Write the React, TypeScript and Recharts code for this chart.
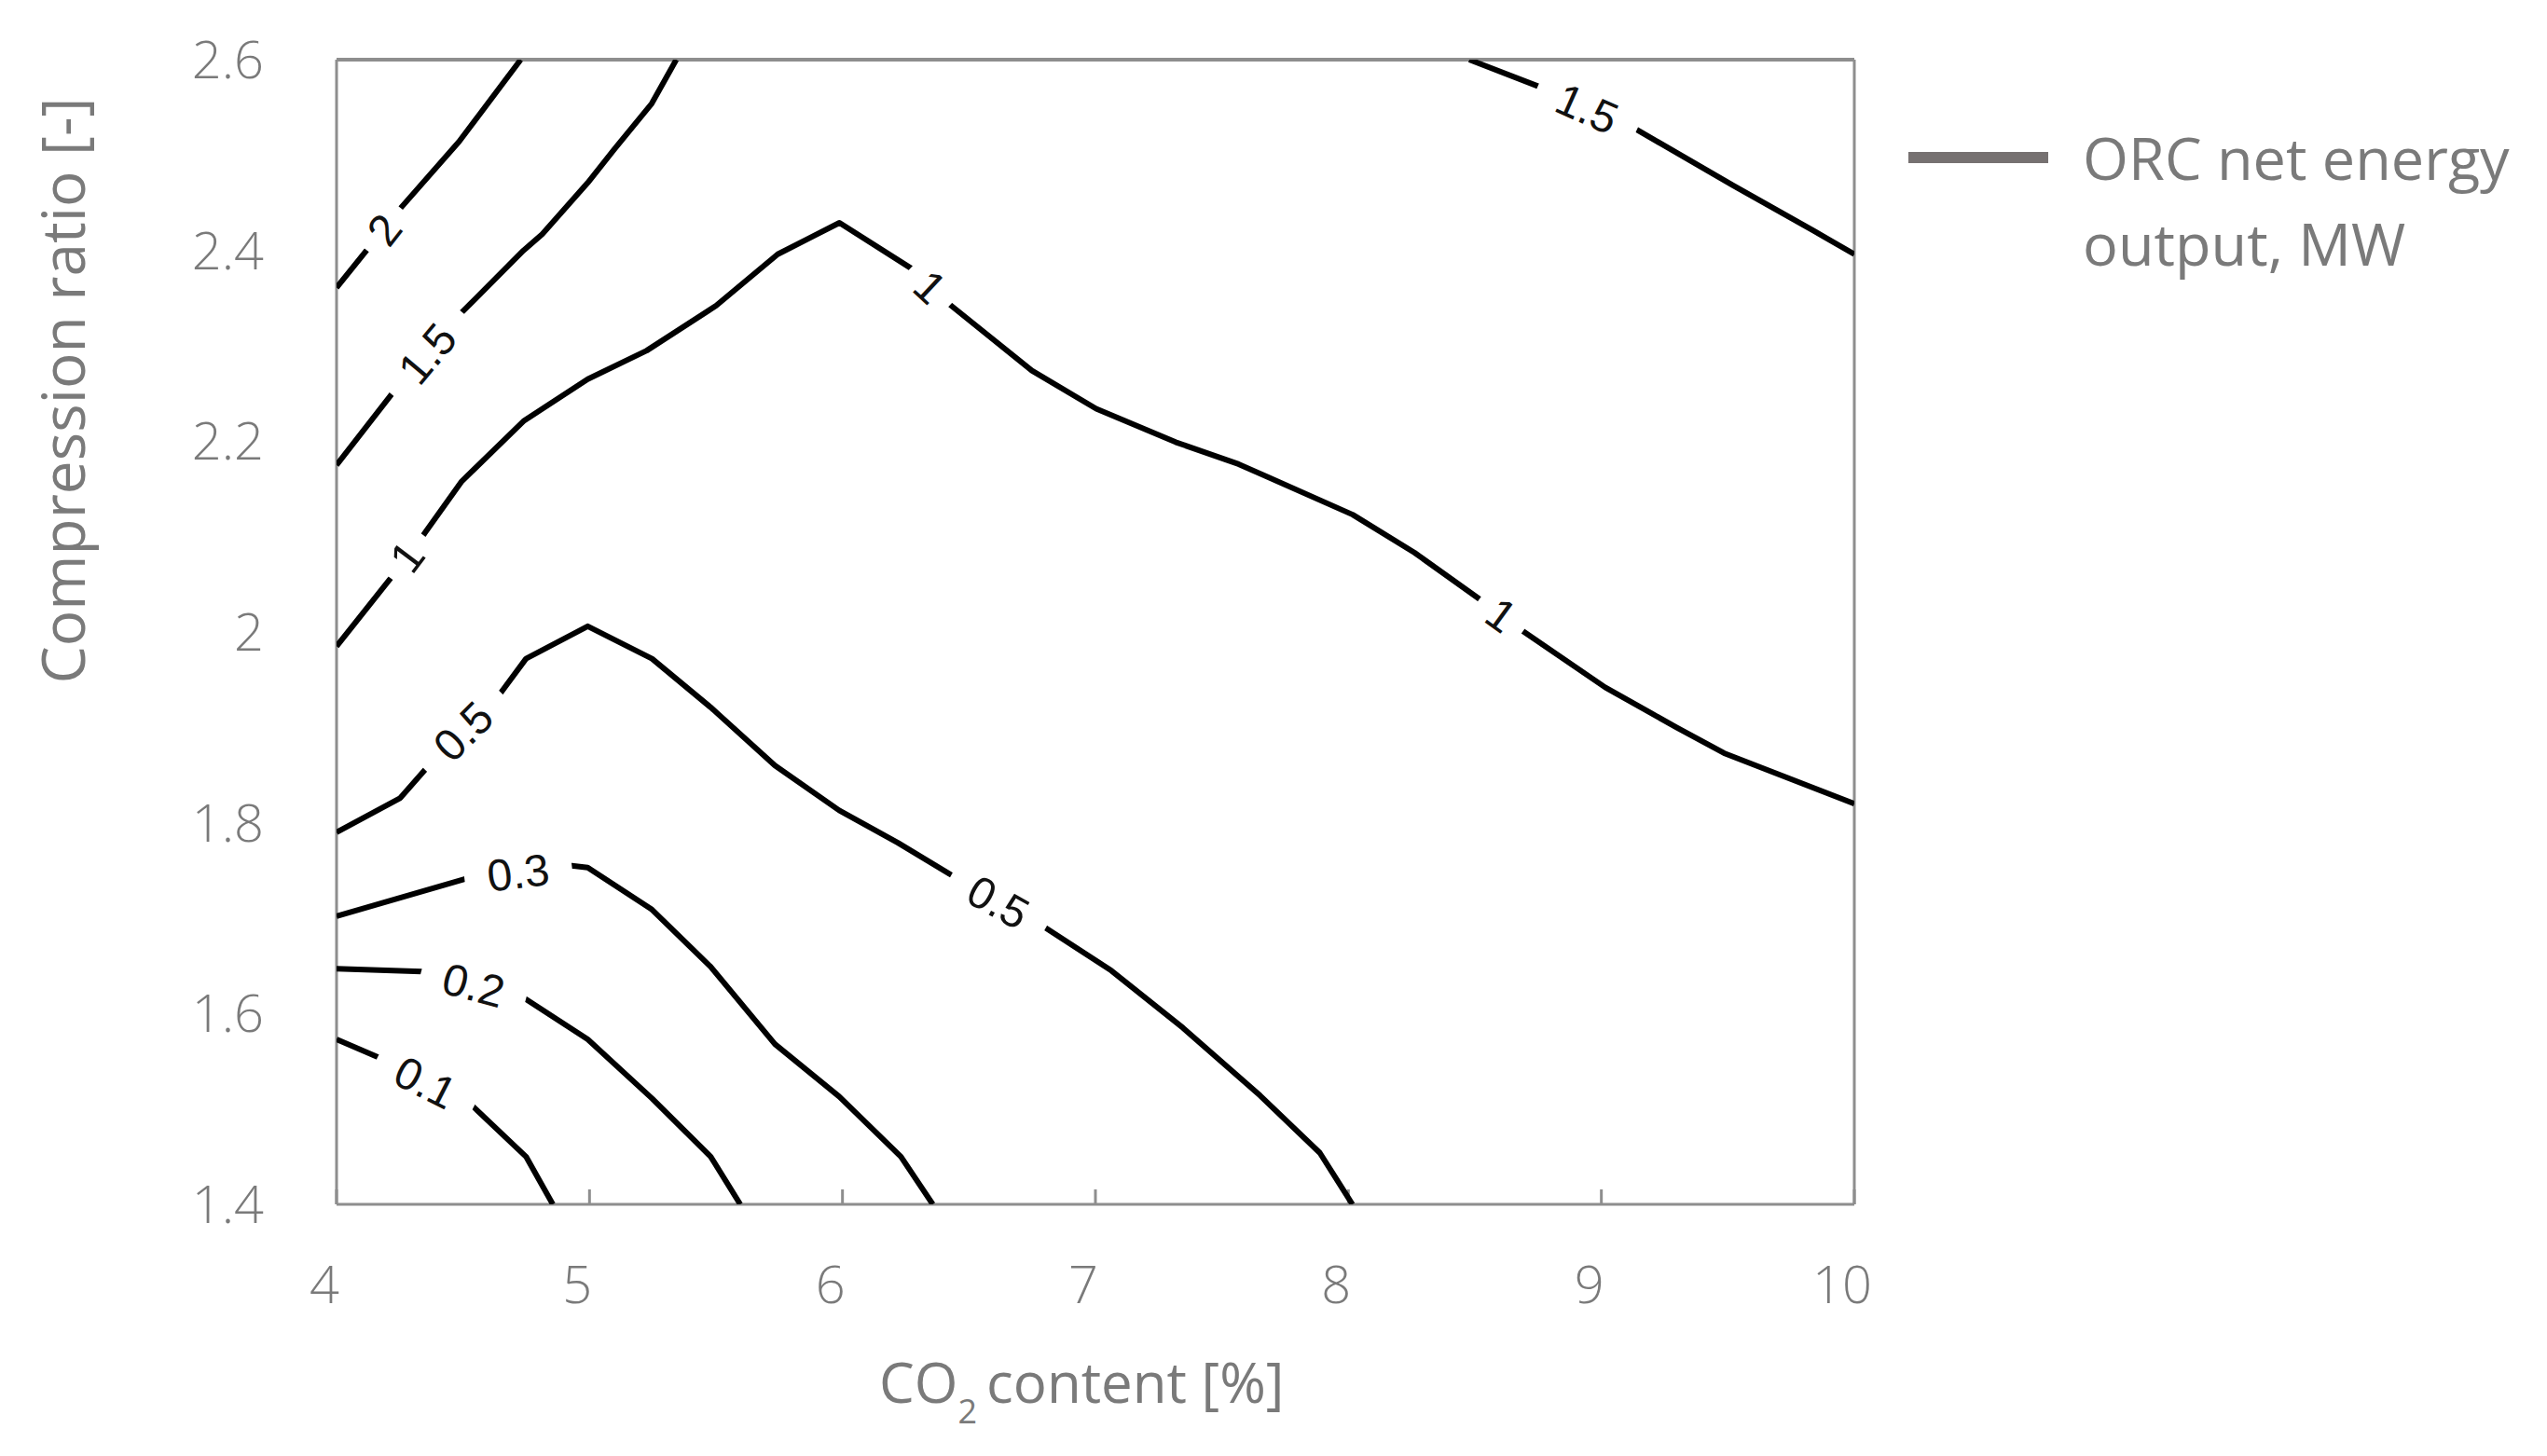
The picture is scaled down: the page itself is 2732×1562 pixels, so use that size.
import React from 'react';
import { ScatterChart, Scatter, XAxis, YAxis, Legend } from 'recharts';

// ---------- data ----------
const X_TICKS = [4, 5, 6, 7, 8, 9, 10];
const Y_TICKS = [1.4, 1.6, 1.8, 2, 2.2, 2.4, 2.6];
const Y_MINOR_TICKS = [1.46, 1.64, 1.82, 2.0, 2.18, 2.36, 2.54];

const LEVEL_2 = [
  { x: 4, y: 2.361 }, { x: 4.252, y: 2.444 }, { x: 4.484, y: 2.514 }, { x: 4.728, y: 2.6 },
];
const LEVEL_1_5_LEFT = [
  { x: 4, y: 2.175 }, { x: 4.22, y: 2.25 }, { x: 4.495, y: 2.335 }, { x: 4.739, y: 2.4 },
  { x: 4.813, y: 2.417 }, { x: 4.993, y: 2.471 }, { x: 5.098, y: 2.506 }, { x: 5.246, y: 2.554 },
  { x: 5.343, y: 2.6 },
];
const LEVEL_1_5_RIGHT = [
  { x: 8.478, y: 2.6 }, { x: 8.751, y: 2.572 }, { x: 9.137, y: 2.527 }, { x: 9.522, y: 2.468 },
  { x: 9.843, y: 2.42 }, { x: 10, y: 2.396 },
];
const LEVEL_1 = [
  { x: 4, y: 1.985 }, { x: 4.21, y: 2.055 }, { x: 4.347, y: 2.103 }, { x: 4.495, y: 2.158 },
  { x: 4.739, y: 2.221 }, { x: 4.993, y: 2.265 }, { x: 5.226, y: 2.295 }, { x: 5.5, y: 2.342 },
  { x: 5.744, y: 2.396 }, { x: 5.988, y: 2.429 }, { x: 6.273, y: 2.381 }, { x: 6.421, y: 2.344 },
  { x: 6.749, y: 2.274 }, { x: 7.003, y: 2.234 }, { x: 7.317, y: 2.199 }, { x: 7.566, y: 2.176 },
  { x: 8.017, y: 2.123 }, { x: 8.262, y: 2.083 }, { x: 8.516, y: 2.035 }, { x: 8.695, y: 2.0 },
  { x: 9.015, y: 1.942 }, { x: 9.297, y: 1.9 }, { x: 9.485, y: 1.873 }, { x: 10, y: 1.82 },
];
const LEVEL_0_5 = [
  { x: 4, y: 1.79 }, { x: 4.252, y: 1.826 }, { x: 4.358, y: 1.858 }, { x: 4.643, y: 1.934 },
  { x: 4.749, y: 1.972 }, { x: 4.993, y: 2.006 }, { x: 5.247, y: 1.972 }, { x: 5.479, y: 1.921 },
  { x: 5.733, y: 1.86 }, { x: 5.987, y: 1.813 }, { x: 6.219, y: 1.779 }, { x: 6.432, y: 1.745 },
  { x: 6.802, y: 1.69 }, { x: 7.063, y: 1.645 }, { x: 7.346, y: 1.585 }, { x: 7.651, y: 1.514 },
  { x: 7.887, y: 1.454 }, { x: 8.016, y: 1.4 },
];
const LEVEL_0_3 = [
  { x: 4, y: 1.702 }, { x: 4.506, y: 1.741 }, { x: 4.93, y: 1.755 }, { x: 4.993, y: 1.753 },
  { x: 5.247, y: 1.709 }, { x: 5.479, y: 1.649 }, { x: 5.733, y: 1.568 }, { x: 5.987, y: 1.513 },
  { x: 6.231, y: 1.45 }, { x: 6.357, y: 1.4 },
];
const LEVEL_0_2 = [
  { x: 4, y: 1.647 }, { x: 4.336, y: 1.644 }, { x: 4.749, y: 1.615 }, { x: 4.993, y: 1.573 },
  { x: 5.247, y: 1.511 }, { x: 5.479, y: 1.45 }, { x: 5.596, y: 1.4 },
];
const LEVEL_0_1 = [
  { x: 4, y: 1.573 }, { x: 4.167, y: 1.554 }, { x: 4.538, y: 1.503 }, { x: 4.749, y: 1.45 },
  { x: 4.855, y: 1.4 },
];

const CONTOURS = [
  LEVEL_2, LEVEL_1_5_LEFT, LEVEL_1_5_RIGHT, LEVEL_1, LEVEL_0_5, LEVEL_0_3, LEVEL_0_2, LEVEL_0_1,
];

const CONTOUR_LABELS = [
  { key: 'a', x: 4.188, y: 2.422, text: '2' },
  { key: 'b', x: 4.358, y: 2.292, text: '1.5' },
  { key: 'c', x: 4.278, y: 2.079, text: '1' },
  { key: 'd', x: 6.347, y: 2.362, text: '1' },
  { key: 'e', x: 8.944, y: 2.549, text: '1.5' },
  { key: 'f', x: 8.605, y: 2.018, text: '1' },
  { key: 'g', x: 4.5, y: 1.896, text: '0.5' },
  { key: 'h', x: 6.616, y: 1.717, text: '0.5' },
  { key: 'i', x: 4.718, y: 1.748, text: '0.3' },
  { key: 'j', x: 4.542, y: 1.63, text: '0.2' },
  { key: 'k', x: 4.352, y: 1.528, text: '0.1' },
];

const LEGEND_LINES = ['ORC net energy', 'output, MW'];
const X_TITLE = ['CO', '2', 'content [%]'];
const Y_TITLE = 'Compression ratio [-]';

// ---------- styles ----------
const LABEL_ROTATION: Record<string, number> = {
  a: -52, b: -50, c: -53, d: 43, e: 24, f: 36, g: -45, h: 29, i: -7, j: 15, k: 27,
};
const FRAME = '#8e8e8e';
const TEXT_GRAY = '#7a7a7a';
const AXIS_FONT = '"Open Sans", "Noto Sans", sans-serif';

const NoPoint = () => <g />;

const ContourLabel = (props: any) => {
  const { cx, cy, payload } = props;
  if (cx == null || cy == null) return <g />;
  const w = 29 * (payload.text.length + 1);
  const rot = LABEL_ROTATION[payload.key] || 0;
  return (
    <g transform={`translate(${cx},${cy}) rotate(${rot})`}>
      <rect x={-w / 2} y={-22} width={w} height={44} fill="#ffffff" />
      <text
        x={0}
        y={0}
        dy={17}
        textAnchor="middle"
        fontSize={48}
        fontFamily='"Liberation Sans", Arial, sans-serif'
        fill="#111111"
      >
        {payload.text}
      </text>
    </g>
  );
};

const XTick = (props: any) => {
  const { x, y, payload } = props;
  return (
    <text x={x - 13} y={y} dy={40} textAnchor="middle" fontSize={56} fontFamily={AXIS_FONT} fontWeight={300} fill={TEXT_GRAY}>
      {payload.value}
    </text>
  );
};

const YTick = (props: any) => {
  const { x, y, payload } = props;
  return (
    <text x={x} y={y} dy={20} textAnchor="end" fontSize={56} fontFamily={AXIS_FONT} fontWeight={300} fill={TEXT_GRAY}>
      {payload.value}
    </text>
  );
};

const XTitle = () => (
  <text x={943} y={1505} textAnchor="start" fontSize={60} fontFamily={AXIS_FONT} fill={TEXT_GRAY}>
    {X_TITLE[0]}
    <tspan dy={22} fontSize={36}>{X_TITLE[1]}</tspan>
    <tspan dy={-22} dx={10}>{X_TITLE[2]}</tspan>
  </text>
);

const YTitle = () => (
  <text
    x={91}
    y={419}
    transform="rotate(-90, 91, 419)"
    textAnchor="middle"
    fontSize={64}
    fontFamily={AXIS_FONT}
    fill={TEXT_GRAY}
  >
    {Y_TITLE}
  </text>
);

const LegendContent = () => (
  <div style={{ position: 'relative', width: 680, height: 200 }}>
    <div style={{ position: 'absolute', left: 0, top: 40, width: 150, height: 12, background: '#767171' }} />
    <div
      style={{
        position: 'absolute',
        left: 187,
        top: 0,
        fontFamily: AXIS_FONT,
        fontSize: 63,
        lineHeight: '92px',
        color: TEXT_GRAY,
        whiteSpace: 'nowrap',
      }}
    >
      {LEGEND_LINES.map((l) => (
        <div key={l}>{l}</div>
      ))}
    </div>
  </div>
);

export default function App() {
  return (
    <div style={{ position: 'absolute', left: 0, top: 0, width: 2732, height: 1562, background: '#ffffff' }}>
      <ScatterChart width={2732} height={1562} margin={{ top: 63, right: 742, bottom: 170, left: 260 }}>
        <XAxis
          xAxisId="x"
          type="number"
          dataKey="x"
          domain={[4, 10]}
          ticks={X_TICKS}
          interval={0}
          allowDataOverflow
          orientation="bottom"
          height={100}
          axisLine={{ stroke: FRAME, strokeWidth: 3 }}
          tickLine={{ stroke: FRAME, strokeWidth: 3 }}
          tickSize={-16}
          tickMargin={82}
          tick={<XTick />}
          label={<XTitle />}
        />
        <XAxis
          xAxisId="xt"
          type="number"
          dataKey="x"
          domain={[4, 10]}
          ticks={X_TICKS}
          interval={0}
          allowDataOverflow
          orientation="top"
          height={1}
          axisLine={{ stroke: FRAME, strokeWidth: 4 }}
          tickLine={{ stroke: FRAME, strokeWidth: 3 }}
          tickSize={-16}
          tick={false}
        />
        <YAxis
          yAxisId="y"
          type="number"
          dataKey="y"
          domain={[1.4, 2.6]}
          ticks={Y_TICKS}
          interval={0}
          allowDataOverflow
          orientation="left"
          width={100}
          axisLine={{ stroke: FRAME, strokeWidth: 3 }}
          tickLine={false}
          tickSize={0}
          tickMargin={78}
          tick={<YTick />}
          label={<YTitle />}
        />
        <YAxis
          yAxisId="yl"
          type="number"
          dataKey="y"
          domain={[1.4, 2.6]}
          ticks={Y_MINOR_TICKS}
          interval={0}
          allowDataOverflow
          orientation="left"
          width={1}
          axisLine={false}
          tickLine={{ stroke: FRAME, strokeWidth: 3 }}
          tickSize={-16}
          tick={false}
        />
        <YAxis
          yAxisId="yr"
          type="number"
          dataKey="y"
          domain={[1.4, 2.6]}
          ticks={Y_MINOR_TICKS}
          interval={0}
          allowDataOverflow
          orientation="right"
          width={1}
          axisLine={{ stroke: FRAME, strokeWidth: 3 }}
          tickLine={{ stroke: FRAME, strokeWidth: 3 }}
          tickSize={-16}
          tick={false}
        />
        {CONTOURS.map((c, i) => (
          <Scatter
            key={i}
            xAxisId="x"
            yAxisId="y"
            data={c}
            line={{ stroke: '#000000', strokeWidth: 6, strokeLinejoin: 'round' }}
            lineJointType="linear"
            shape={NoPoint}
            legendType="none"
            isAnimationActive={false}
          />
        ))}
        <Scatter
          xAxisId="x"
          yAxisId="y"
          data={CONTOUR_LABELS}
          shape={ContourLabel}
          legendType="none"
          isAnimationActive={false}
        />
        <Legend
          layout="vertical"
          align="center"
          verticalAlign="middle"
          wrapperStyle={{ left: 2047, top: 123, width: 680, height: 200 }}
          content={<LegendContent />}
        />
      </ScatterChart>
    </div>
  );
}
